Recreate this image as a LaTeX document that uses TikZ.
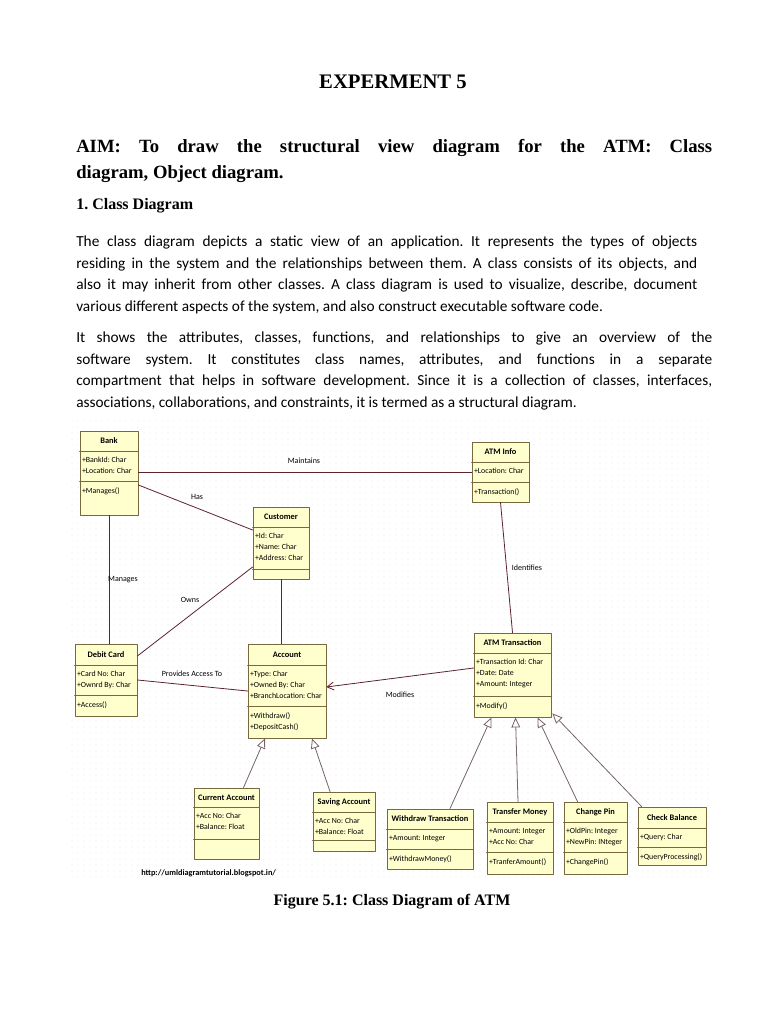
\documentclass[tikz,border=0pt]{standalone}
\usepackage{fontspec}
\setmainfont{Liberation Serif}
\newfontfamily\bodyfont{Carlito}
\usetikzlibrary{arrows.meta,calc,fit}

\definecolor{boxfill}{RGB}{255,255,206}
\definecolor{boxline}{RGB}{120,104,62}
\definecolor{assocline}{RGB}{92,36,44}
\definecolor{genline}{RGB}{118,100,100}
\definecolor{dotgray}{RGB}{205,205,205}

% class box: name, corner, corner, first divider, second divider, title, attributes, operations
\newcommand\umlclass[8]{%
  \node[classbox,fit={(#2) (#3)}] (#1) {};
  \draw[classline] (#1.west |- 0,#4) -- (#1.east |- 0,#4);
  \draw[classline] (#1.west |- 0,#5) -- (#1.east |- 0,#5);
  \node[classname] (#1-title) at ($(#1.north)!0.5!(#1.north |- 0,#4)$) {#6};
  \node[classtext] (#1-attr) at (#1.west |- 0,#4) {#7};
  \node[classtext] (#1-ops) at (#1.west |- 0,#5) {#8};
}

\begin{document}
\frenchspacing
\begin{tikzpicture}[x=0.75pt,y=-0.75pt,line cap=round,line join=round,
  classbox/.style={draw=boxline,fill=boxfill,line width=0.6pt,inner sep=0pt},
  classline/.style={draw=boxline,line width=0.6pt},
  classname/.style={font=\bodyfont\bfseries\fontsize{6.3}{7}\selectfont,inner sep=0pt},
  classtext/.style={anchor=north west,align=left,inner xsep=1.6pt,inner ysep=4.6pt,
    font=\bodyfont\fontsize{5.9}{8.25}\selectfont},
  assoc/.style={draw=assocline,line width=0.6pt},
  gen/.style={draw=genline,line width=0.6pt,
    -{Triangle[open,fill=white,length=7.5pt,width=6.5pt]}},
  assoclabel/.style={font=\bodyfont\fontsize{6}{7}\selectfont,inner sep=0pt},
  bodytext/.style={anchor=north west,align=justify,inner sep=0pt,
    font=\bodyfont\fontsize{11.5}{16.3}\selectfont},
  heading/.style={inner sep=0pt,font=\bfseries}]
  \useasboundingbox[fill=white] (0,0) rectangle (768,1024);

  % page text
  \node[heading,font=\bfseries\fontsize{15.5}{18}\selectfont] (title) at (393,82) {EXPERMENT 5};
  \node[heading,anchor=north west,text width=477pt,align=justify,
    font=\bfseries\fontsize{14}{19.5}\selectfont] (aim) at (76,139)
    {AIM: To draw the structural view diagram for the ATM: Class\linebreak diagram, Object diagram.};
  \node[heading,anchor=west,font=\bfseries\fontsize{12}{14}\selectfont] (sec) at (76,206) {1. Class Diagram};
  \node[bodytext,text width=465.75pt] (para1) at (76,235.5)
    {The class diagram depicts a static view of an application. It represents the types of objects\linebreak
     residing in the system and the relationships between them. A class consists of its objects, and\linebreak
     also it may inherit from other classes. A class diagram is used to visualize, describe, document\linebreak
     various different aspects of the system, and also construct executable software code.};
  \node[bodytext,text width=477pt] (para2) at (76,331.5)
    {It shows the attributes, classes, functions, and relationships to give an overview of the\linebreak
     software system. It constitutes class names, attributes, and functions in a separate\linebreak
     compartment that helps in software development. Since it is a collection of classes, interfaces,\linebreak
     associations, collaborations, and constraints, it is termed as a structural diagram.};

  % dotted background of the diagram
  \foreach \y in {421,427,...,881}
    \draw[dotgray,line width=0.7pt,dash pattern=on 0pt off 4.5pt] (72,\y) -- (712,\y);

  % classes
  \umlclass{bank}{80,431}{138,515}{451}{481}{Bank}{+BankId: Char\\+Location: Char}{+Manages()}
  \umlclass{atminfo}{472,442}{529,502}{462}{482}{ATM Info}{+Location: Char}{+Transaction()}
  \umlclass{customer}{253,507}{309,579}{527}{569}{Customer}{+Id: Char\\+Name: Char\\+Address: Char}{}
  \umlclass{debit}{75,644}{137,716}{665}{695}{Debit Card}{+Card No: Char\\+Ownrd By: Char}{+Access()}
  \umlclass{account}{248,644}{326,738}{665}{706}{Account}{+Type: Char\\+Owned By: Char\\+BranchLocation: Char}{+Withdraw()\\+DepositCash()}
  \umlclass{atmtrans}{474,633}{551,717}{653}{696}{ATM Transaction}{+Transaction Id: Char\\+Date: Date\\+Amount: Integer}{+Modify()}
  \umlclass{current}{194,788}{259,859}{807}{839}{Current Account}{+Acc No: Char\\+Balance: Float}{}
  \umlclass{saving}{313,792}{375,851}{812}{840}{Saving Account}{+Acc No: Char\\+Balance: Float}{}
  \umlclass{withdraw}{387,809}{473,869}{829}{849}{Withdraw Transaction}{+Amount: Integer}{+WithdrawMoney()}
  \umlclass{transfer}{487,802}{553,874}{822}{852}{Transfer Money}{+Amount: Integer\\+Acc No: Char}{+TranferAmount()}
  \umlclass{changepin}{564,802}{627,874}{822}{852}{Change Pin}{+OldPin: Integer\\+NewPin: INteger}{+ChangePin()}
  \umlclass{checkbal}{638,807}{706,865}{828}{847}{Check Balance}{+Query: Char}{+QueryProcessing()}

  % associations
  \draw[assoc] (atminfo.west) -- (atminfo.west -| bank.east);
  \draw[assoc] ($(bank.east)+(0,12)$) -- ($(customer.west)+(0,-13)$);
  \draw[assoc] (bank.south) -- (bank.south |- debit.north);
  \draw[assoc] ($(customer.west)+(0,24)$) -- ($(debit.east)+(0,-24)$);
  \draw[assoc] (customer.south) -- (customer.south |- account.north);
  \draw[assoc] (atminfo.south) -- (atmtrans.north);
  \draw[assoc] (debit.east) -- (account.west);
  \draw[assoc,-{Straight Barb[length=5pt,width=6pt]}] ($(atmtrans.west)+(0,-7)$) -- ($(account.east)+(0,-4)$);

  \node[assoclabel] (maintains) at (304,461) {Maintains};
  \node[assoclabel] (has) at (197,497) {Has};
  \node[assoclabel] (manages) at (123,580) {Manages};
  \node[assoclabel] (owns) at (190,600) {Owns};
  \node[assoclabel] (identifies) at (527,568) {Identifies};
  \node[assoclabel] (provides) at (192,674) {Provides Access To};
  \node[assoclabel] (modifies) at (400,695) {Modifies};

  % generalizations
  \draw[gen] ($(current.north)+(17,0)$) -- ($(account.south)+(-22,0)$);
  \draw[gen] ($(saving.north)+(-14,0)$) -- ($(account.south)+(25,0)$);
  \draw[gen] ($(withdraw.north)+(20,0)$) -- ($(atmtrans.south)+(-21,0)$);
  \draw[gen] ($(transfer.north)+(-2,0)$) -- ($(atmtrans.south)+(3,0)$);
  \draw[gen] ($(changepin.north)+(-18,0)$) -- ($(atmtrans.south)+(25,0)$);
  \draw[gen] ($(checkbal.north west)+(4,0)$) -- ($(atmtrans.south east)+(1,-4)$);

  \node[anchor=west,inner sep=0pt,font=\bodyfont\bfseries\fontsize{6.2}{7}\selectfont] (url) at (141,873)
    {http://umldiagramtutorial.blogspot.in/};
  \node[heading,font=\bfseries\fontsize{12}{14}\selectfont] (caption) at (392,902)
    {Figure 5.1: Class Diagram of ATM};
\end{tikzpicture}
\end{document}
